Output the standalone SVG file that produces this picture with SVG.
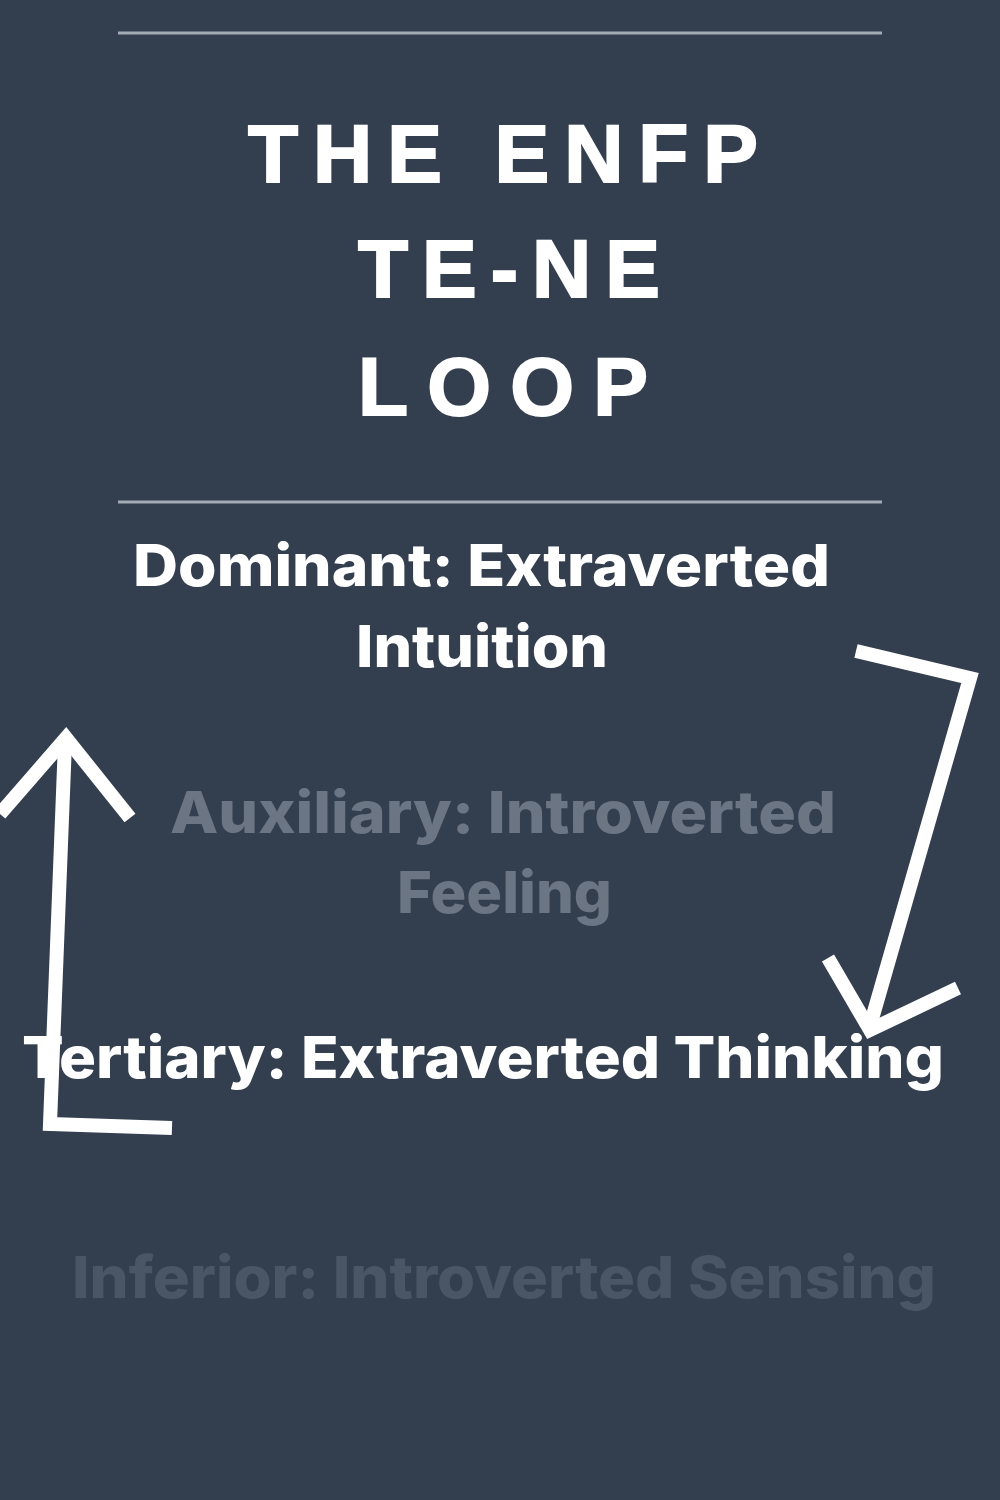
<svg xmlns="http://www.w3.org/2000/svg" width="1000" height="1500" viewBox="0 0 1000 1500">
<style>
.title{font-family:"Liberation Sans","DejaVu Sans",sans-serif;font-weight:700;font-size:82px;fill:#ffffff;stroke:#ffffff;stroke-width:2}
.lbl{font-family:Inter,"Open Sans","Liberation Sans",sans-serif;font-weight:800;font-size:58px}
.white{fill:#ffffff}
.aux{fill:#6b7583}
.inf{fill:#4a5565}
.rule{stroke:#a3abb6;stroke-width:3}
.arrow{fill:none;stroke:#ffffff;stroke-width:14;stroke-linecap:butt;stroke-linejoin:miter}
</style>
<rect x="0" y="0" width="1000" height="1500" fill="#333f4f"/>
<g id="rules">
<line class="rule" x1="118" y1="33" x2="882" y2="33"/>
<line class="rule" x1="118" y1="502" x2="882" y2="502"/>
</g>
<g id="title">
<text class="title" x="248" y="182" textLength="510" lengthAdjust="spacing">THE ENFP</text>
<text class="title" x="358" y="297" textLength="302" lengthAdjust="spacing">TE-NE</text>
<text class="title" x="358" y="415" textLength="290" lengthAdjust="spacing">LOOP</text>
</g>
<g id="dominant">
<text class="lbl white" x="133" y="586" textLength="697" lengthAdjust="spacingAndGlyphs">Dominant: Extraverted</text>
<text class="lbl white" x="356" y="667" textLength="252" lengthAdjust="spacingAndGlyphs">Intuition</text>
</g>
<g id="auxiliary">
<text class="lbl aux" x="170" y="833" textLength="666" lengthAdjust="spacingAndGlyphs">Auxiliary: Introverted</text>
<text class="lbl aux" x="397" y="913" textLength="215" lengthAdjust="spacingAndGlyphs">Feeling</text>
</g>
<g id="tertiary">
<text class="lbl white" x="22" y="1078" textLength="922" lengthAdjust="spacingAndGlyphs">Tertiary: Extraverted Thinking</text>
</g>
<g id="inferior">
<text class="lbl inf" x="72" y="1298" textLength="864" lengthAdjust="spacingAndGlyphs">Inferior: Introverted Sensing</text>
</g>
<g id="connectors">
<polyline class="arrow" points="172,1128 50,1124 65,742"/>
<polyline class="arrow" points="0,814 66,738 130,818"/>
<polyline class="arrow" points="856,651 970,678 870,1026"/>
<polyline class="arrow" points="828,958 870,1030 958,988"/>
</g>
</svg>
